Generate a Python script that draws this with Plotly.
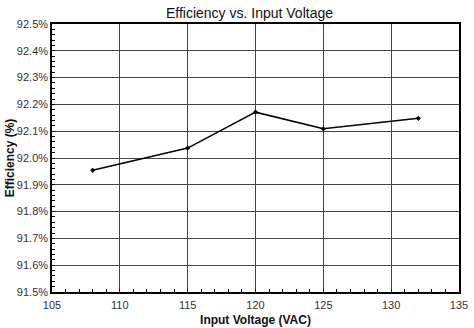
import plotly.graph_objects as go

voltage = [108, 115, 120, 125, 132]
efficiency = [91.954, 92.037, 92.171, 92.109, 92.148]

x_ticks = [105, 110, 115, 120, 125, 130, 135]
y_ticks = [91.5, 91.6, 91.7, 91.8, 91.9, 92.0, 92.1, 92.2, 92.3, 92.4, 92.5]

font_family = "Liberation Sans, Arial, sans-serif"

fig = go.Figure()
fig.add_trace(go.Scatter(
    x=voltage, y=efficiency, mode="lines+markers",
    line=dict(color="black", width=1.5),
    marker=dict(symbol="diamond", size=4, color="black"),
    showlegend=False,
))

fig.update_layout(
    width=474, height=328,
    margin=dict(l=52, r=15, t=24, b=36),
    paper_bgcolor="white", plot_bgcolor="white",
    font=dict(family=font_family, color="#333333", size=11),
    title=dict(text="Efficiency vs. Input Voltage", x=230/474, xanchor="center",
               xref="paper", y=0.96, yanchor="middle",
               font=dict(size=14, color="#111111")),
)
fig.update_xaxes(
    range=[105, 135], tickvals=x_ticks, ticktext=[str(v) for v in x_ticks],
    showgrid=True, gridcolor="#444444", gridwidth=1,
    showline=True, linecolor="black", linewidth=1.5, mirror=True,
    ticks="inside", ticklen=3, tickcolor="black",
    minor=dict(dtick=1, ticks="inside", ticklen=3, tickcolor="black", showgrid=False),
    zeroline=False, ticklabelstandoff=2, automargin=False,
    title=dict(text="<b>Input Voltage (VAC)</b>", font=dict(size=12, color="#111111"), standoff=6),
    tickfont=dict(size=11, color="#333333"),
)
fig.update_yaxes(
    range=[91.5, 92.5], tickvals=y_ticks, ticktext=[f"{v:.1f}%" for v in y_ticks],
    showgrid=True, gridcolor="#444444", gridwidth=1,
    showline=True, linecolor="black", linewidth=1.5, mirror=True,
    ticks="inside", ticklen=3, tickcolor="black",
    minor=dict(dtick=0.02, ticks="inside", ticklen=3, tickcolor="black", showgrid=False),
    zeroline=False, automargin=False,
    title=dict(text="<b>Efficiency (%)</b>", font=dict(size=12, color="#111111"), standoff=0),
    tickfont=dict(size=11, color="#333333"),
)

fig.write_html("out.html")
